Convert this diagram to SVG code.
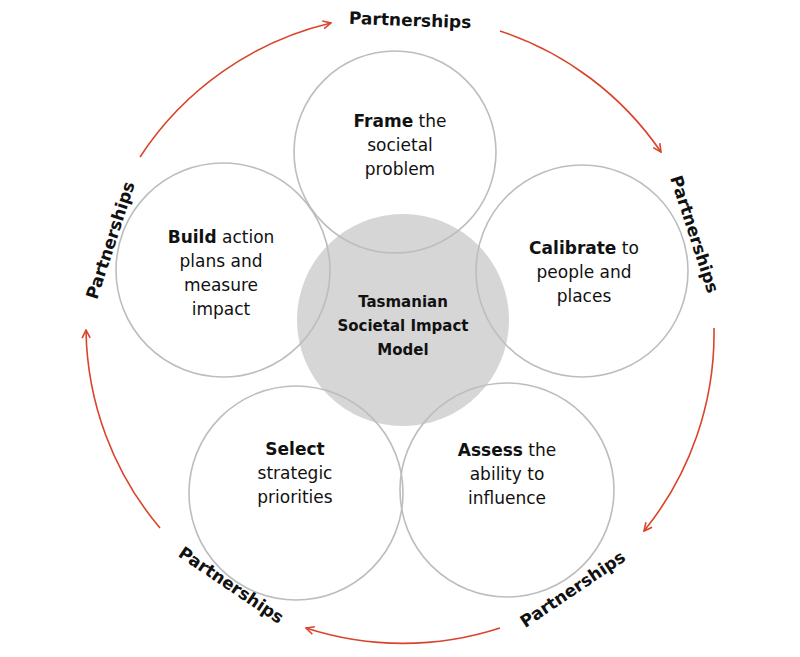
<svg xmlns="http://www.w3.org/2000/svg" width="800" height="657" viewBox="0 0 800 657">
<style>
.c{fill:none;stroke:#bdbdbd;stroke-width:1.6}
.t{font-family:"DejaVu Sans",sans-serif;font-size:17px;fill:#111;text-anchor:middle}
.b{font-weight:700}
.m{font-size:15px}
.p{font-family:"DejaVu Sans",sans-serif;font-size:17px;font-weight:700;fill:#111;text-anchor:middle}
.a{fill:none;stroke:#d9442b;stroke-width:1.6;marker-end:url(#m)}
</style>
<defs><marker id="m" viewBox="0 0 10 10" refX="9" refY="5" markerWidth="10" markerHeight="10" orient="auto" markerUnits="userSpaceOnUse"><path d="M1,1 L9,5 L1,9" fill="none" stroke="#d9442b" stroke-width="1.6"/></marker></defs>
<rect width="800" height="657" fill="#fff"/>
<g id="center"><circle cx="403" cy="320" r="106" fill="#d6d6d6"/>
<text class="t b m" x="403" y="307">Tasmanian</text>
<text class="t b m" x="403" y="331">Societal Impact</text>
<text class="t b m" x="403" y="355">Model</text></g>
<g id="frame"><circle class="c" cx="395" cy="152" r="101"/>
<text class="t" x="400" y="127"><tspan class="b">Frame</tspan> the</text>
<text class="t" x="400" y="151">societal</text>
<text class="t" x="400" y="175">problem</text></g>
<g id="calibrate"><circle class="c" cx="582" cy="271" r="106"/>
<text class="t" x="584" y="254"><tspan class="b">Calibrate</tspan> to</text>
<text class="t" x="584" y="278">people and</text>
<text class="t" x="584" y="302">places</text></g>
<g id="build"><circle class="c" cx="223" cy="270" r="107"/>
<text class="t" x="221" y="243"><tspan class="b">Build</tspan> action</text>
<text class="t" x="221" y="267">plans and</text>
<text class="t" x="221" y="291">measure</text>
<text class="t" x="221" y="315">impact</text></g>
<g id="select"><circle class="c" cx="296" cy="493" r="107"/>
<text class="t b" x="295" y="455">Select</text>
<text class="t" x="295" y="479">strategic</text>
<text class="t" x="295" y="503">priorities</text></g>
<g id="assess"><circle class="c" cx="507" cy="490" r="107"/>
<text class="t" x="507" y="456"><tspan class="b">Assess</tspan> the</text>
<text class="t" x="507" y="480">ability to</text>
<text class="t" x="507" y="504">influence</text></g>
<g id="connectors">
<path class="a" d="M140,157 A314,314 0 0 1 331,23"/>
<path class="a" d="M500,31 A314,314 0 0 1 661,152"/>
<path class="a" d="M714,328 A314,314 0 0 1 644,531"/>
<path class="a" d="M500,628 A314,314 0 0 1 306,628"/>
<path class="a" d="M160,528 A314,314 0 0 1 86,330"/>
</g>
<g id="labels">
<text class="p" transform="translate(410,26) rotate(2)">Partnerships</text>
<text class="p" transform="translate(689,236) rotate(72)">Partnerships</text>
<text class="p" transform="translate(576,594) rotate(-34)">Partnerships</text>
<text class="p" transform="translate(228,590) rotate(34)">Partnerships</text>
<text class="p" transform="translate(116,242) rotate(-72)">Partnerships</text>
</g>
</svg>
